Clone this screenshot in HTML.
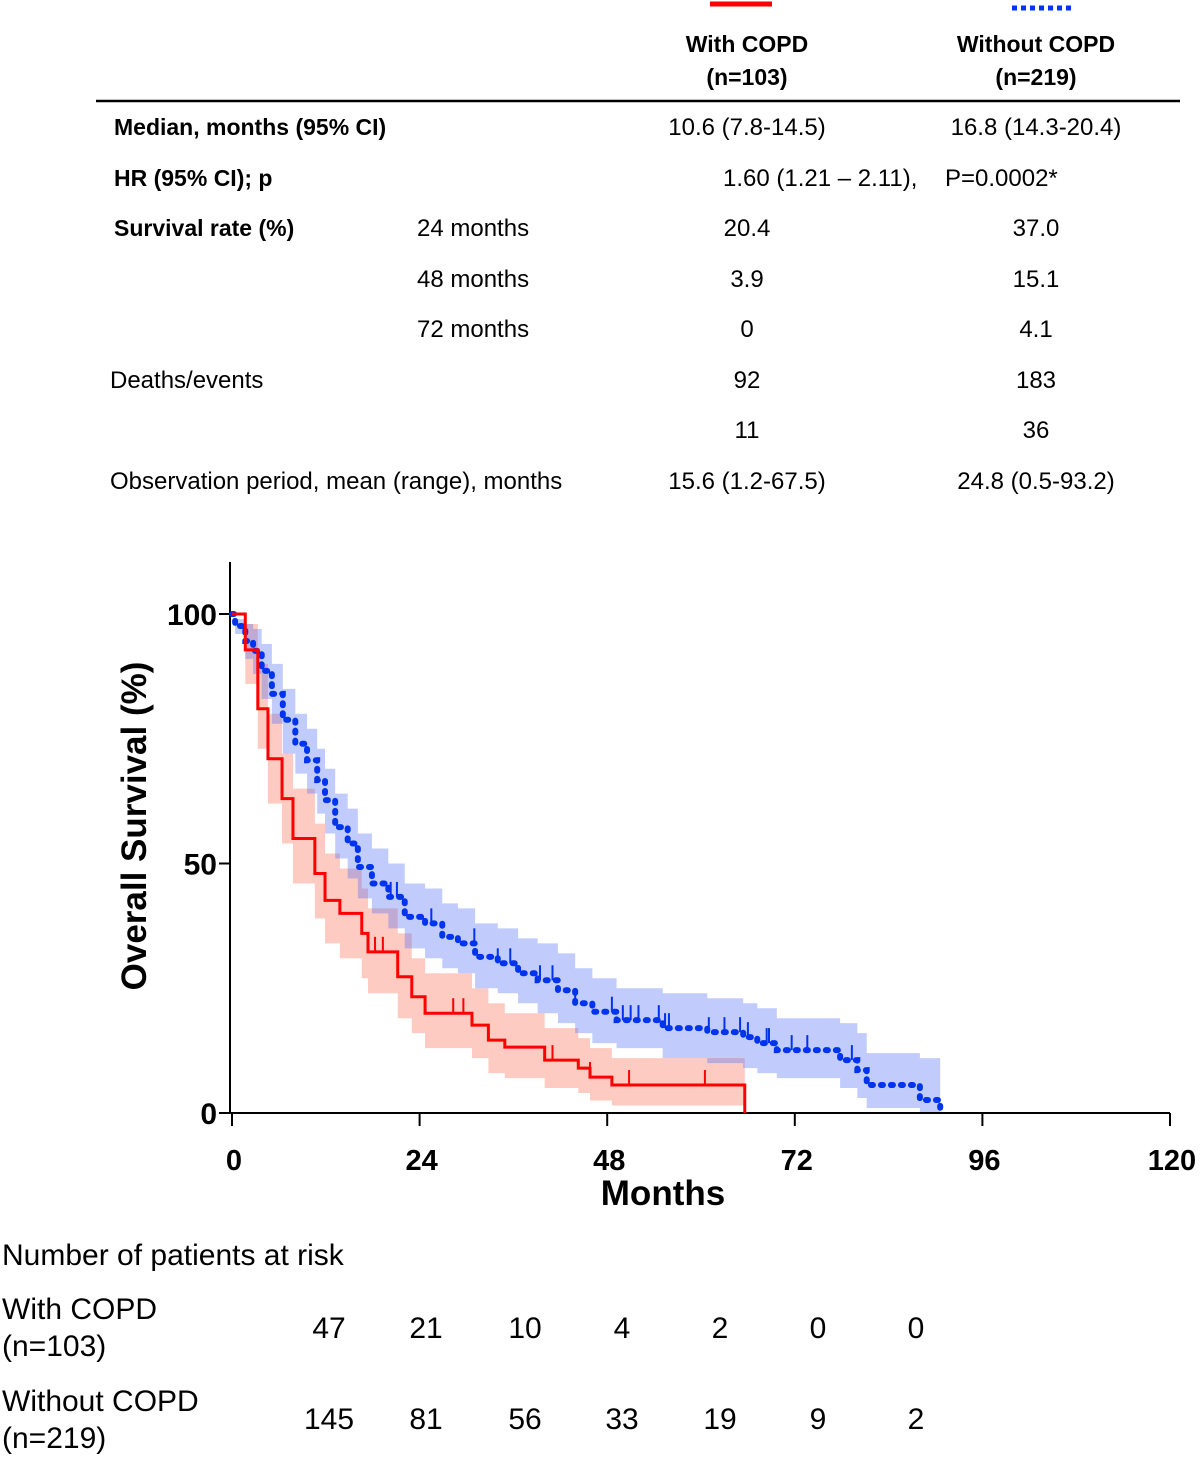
<!DOCTYPE html>
<html><head><meta charset="utf-8">
<style>
body{margin:0;background:#fff;}
svg{display:block;font-family:"Liberation Sans",sans-serif;}
.b{font-weight:bold;font-size:23px;}
</style></head>
<body>
<svg id="chart" width="1200" height="1457" viewBox="0 0 1200 1457" xmlns="http://www.w3.org/2000/svg">
<g font-size="24" fill="#000">
  <line x1="710" y1="4" x2="772" y2="4" stroke="#f00" stroke-width="5"/>
  <line x1="1012" y1="8" x2="1075" y2="8" stroke="#0033ff" stroke-width="5" stroke-dasharray="5,4"/>
  <text x="747" y="52" text-anchor="middle" class="b">With COPD</text>
  <text x="747" y="85" text-anchor="middle" class="b">(n=103)</text>
  <text x="1036" y="52" text-anchor="middle" class="b">Without COPD</text>
  <text x="1036" y="85" text-anchor="middle" class="b">(n=219)</text>
  <line x1="96" y1="101" x2="1180" y2="101" stroke="#000" stroke-width="2.5"/>
  <text x="114" y="135" class="b">Median, months (95% CI)</text>
  <text x="747" y="135" text-anchor="middle">10.6 (7.8-14.5)</text>
  <text x="1036" y="135" text-anchor="middle">16.8 (14.3-20.4)</text>
  <text x="114" y="186" class="b">HR (95% CI); p</text>
  <text x="723" y="186">1.60 (1.21 – 2.11),</text>
  <text x="945" y="186">P=0.0002*</text>
  <text x="114" y="236" class="b">Survival rate (%)</text>
  <text x="417" y="236">24 months</text>
  <text x="747" y="236" text-anchor="middle">20.4</text>
  <text x="1036" y="236" text-anchor="middle">37.0</text>
  <text x="417" y="287">48 months</text>
  <text x="747" y="287" text-anchor="middle">3.9</text>
  <text x="1036" y="287" text-anchor="middle">15.1</text>
  <text x="417" y="337">72 months</text>
  <text x="747" y="337" text-anchor="middle">0</text>
  <text x="1036" y="337" text-anchor="middle">4.1</text>
  <text x="110" y="388">Deaths/events</text>
  <text x="747" y="388" text-anchor="middle">92</text>
  <text x="1036" y="388" text-anchor="middle">183</text>
  <text x="747" y="438" text-anchor="middle">11</text>
  <text x="1036" y="438" text-anchor="middle">36</text>
  <text x="110" y="489">Observation period, mean (range), months</text>
  <text x="747" y="489" text-anchor="middle">15.6 (1.2-67.5)</text>
  <text x="1036" y="489" text-anchor="middle">24.8 (0.5-93.2)</text>
</g>
<g id="plot"></g>
<g font-size="30" fill="#000">
  <text x="2" y="1265">Number of patients at risk</text>
  <text x="2" y="1319">With COPD</text>
  <text x="2" y="1356">(n=103)</text>
  <text x="2" y="1411">Without COPD</text>
  <text x="2" y="1448">(n=219)</text>
  <g id="riskvals"></g>
</g>
</svg>
<script>
// Red: With COPD
const redT  = [0,1.7,3.3,4.6,6.4,7.8,10.6,11.9,13.8,16.6,17.4,21.2,23,24.7,30.7,32.8,34.9,40,44.3,45.8,48.6];
const redS  = [100,92.8,81,71,63,55,48,42.6,40,36,32.3,27.3,23.3,20,17.6,14.6,13.2,10.6,9,7.2,5.6];
const redHi = [100,98,90,80,72,65,58,52,49,45,41,36,31,28,25,22,20,17,15,13,11];
const redLo = [100,86,73,62,54,46,39,34,31,27,24,19,16,13,11,8,7,5,4,2.5,1.5];
const redEnd = 65.6;
const redCens = [18.3,19.3,28.3,29.6,41,45.8,50.8,60.5];
// Blue: Without COPD
const bluT  = [0,0.4,1.7,2.7,3.8,5.1,6.5,8.1,9.6,10.9,11.9,13.2,14.8,16.1,17.9,20,22.1,24.7,26.9,28.9,31.1,34,36.6,39.1,41.7,43.9,46.1,49.2,55.1,60.8,65.4,67.2,69.7,77.8,80,81.2,88];
const bluS  = [100,97.6,94.6,92.6,88.6,84,78.8,74,70.7,66.7,62.7,57.3,54,49.3,46,43.3,39.3,38,35.3,34,31.3,30,28,26.6,24.6,22,20.3,18.6,17,16.2,15.2,14,12.6,10.6,8.6,5.6,2.6];
const bluHi = [100,99,98,97,94,90,85,80,77,73,69,64,61,56,53,50,46,45,42,41,38,37,35,34,32,29,27,25,24,23,22,21,19,18,16,12,11];
const bluLo = [100,96,91,88,83,78,72,68,64,60,56,51,47,43,40,37,33,31,29,28,25,24,22,20,18,16,14,13,11,10,9,8,7,5,3,1,0];
const bluEnd = 90.6;
const bluCens = [20.3,21.1,25.5,31,34,35.6,39.4,41,43.9,48.6,50,51,52,54.6,55.4,55.9,61,63,65,66,68.4,68.7,71.6,73.6,79.3];
// Axes & risk table
const xTicks = [0,24,48,72,96,120];
const yTicks = [0,50,100];
const riskWith = [47,21,10,4,2,0,0];
const riskWithout = [145,81,56,33,19,9,2];

const NS="http://www.w3.org/2000/svg";
const X0=232,X1=1170,Y0=1113,Y1=614;
const sx=t=>X0+t*(X1-X0)/120;
const sy=s=>Y0-s*(Y0-Y1)/100;
const plot=document.getElementById('plot');
function mk(tag,attrs,parent){const e=document.createElementNS(NS,tag);for(const k in attrs)e.setAttribute(k,attrs[k]);(parent||plot).appendChild(e);return e;}
function stepPath(T,S,end,drop){let d=`M${sx(T[0])},${sy(S[0])}`;for(let i=1;i<T.length;i++){d+=`H${sx(T[i])}V${sy(S[i])}`;}d+=`H${sx(end)}`;if(drop)d+=`V${sy(0)}`;return d;}
function band(T,H,L,end){let up=[],lo=[];for(let i=0;i<T.length;i++){const t2=i+1<T.length?T[i+1]:end;up.push([sx(T[i]),sy(H[i])],[sx(t2),sy(H[i])]);lo.push([sx(T[i]),sy(L[i])],[sx(t2),sy(L[i])]);}return up.concat(lo.reverse()).map(p=>p.join(',')).join(' ');}
function valAt(T,S,t){let v=S[0];for(let i=0;i<T.length;i++){if(T[i]<=t)v=S[i];}return v;}

let e;
e=mk('polygon',{points:band(redT,redHi,redLo,redEnd),fill:'#f86a4f','fill-opacity':0.35});


e=mk('polygon',{points:band(bluT,bluHi,bluLo,bluEnd),fill:'#4d6ef5','fill-opacity':0.35});



e=mk('line',{x1:230,y1:562,x2:230,y2:Y0,stroke:'#000','stroke-width':2});


e=mk('line',{x1:230,y1:Y0,x2:X1,y2:Y0,stroke:'#000','stroke-width':2});


yTicks.forEach(v=>{
  e=mk('line',{x1:219,y1:sy(v),x2:230,y2:sy(v),stroke:'#000','stroke-width':2});
  
  
  e=mk('text',{x:217,y:sy(v)+11,'text-anchor':'end','font-size':30,'font-weight':'bold'});
  e.textContent=v;
  
  
});
xTicks.forEach(v=>{
  e=mk('line',{x1:sx(v),y1:Y0,x2:sx(v),y2:Y0+13,stroke:'#000','stroke-width':2});
  
  
  e=mk('text',{x:sx(v)+2,y:1170,'text-anchor':'middle','font-size':29,'font-weight':'bold'});
  e.textContent=v;
  
  
});
e=mk('text',{x:663,y:1205,'text-anchor':'middle','font-size':35,'font-weight':'bold'});
e.textContent='Months';


e=mk('text',{x:0,y:0,'text-anchor':'middle','font-size':35,'font-weight':'bold',transform:'translate(146,826) rotate(-90)'});
e.textContent='Overall Survival (%)';



e=mk('path',{d:stepPath(bluT,bluS,bluEnd,true),fill:'none',stroke:'#0033ee','stroke-width':6,'stroke-dasharray':'2,8','stroke-linecap':'round'});


bluCens.forEach(t=>{
  e=mk('line',{x1:sx(t),y1:sy(valAt(bluT,bluS,t)),x2:sx(t),y2:sy(valAt(bluT,bluS,t))-15,stroke:'#0033ee','stroke-width':2});
  
  
});
e=mk('path',{d:stepPath(redT,redS,redEnd,true),fill:'none',stroke:'#ff0000','stroke-width':3});


redCens.forEach(t=>{
  e=mk('line',{x1:sx(t),y1:sy(valAt(redT,redS,t)),x2:sx(t),y2:sy(valAt(redT,redS,t))-15,stroke:'#ff0000','stroke-width':2});
  
  
});

const rv=document.getElementById('riskvals');
const riskX=[329,426,525,622,720,818,916];
riskWith.forEach((v,i)=>{
  e=mk('text',{x:riskX[i],y:1338,'text-anchor':'middle'},rv);
  e.textContent=v;
  
  
});
riskWithout.forEach((v,i)=>{
  e=mk('text',{x:riskX[i],y:1429,'text-anchor':'middle'},rv);
  e.textContent=v;
  
  
});
</script>
</body></html>
